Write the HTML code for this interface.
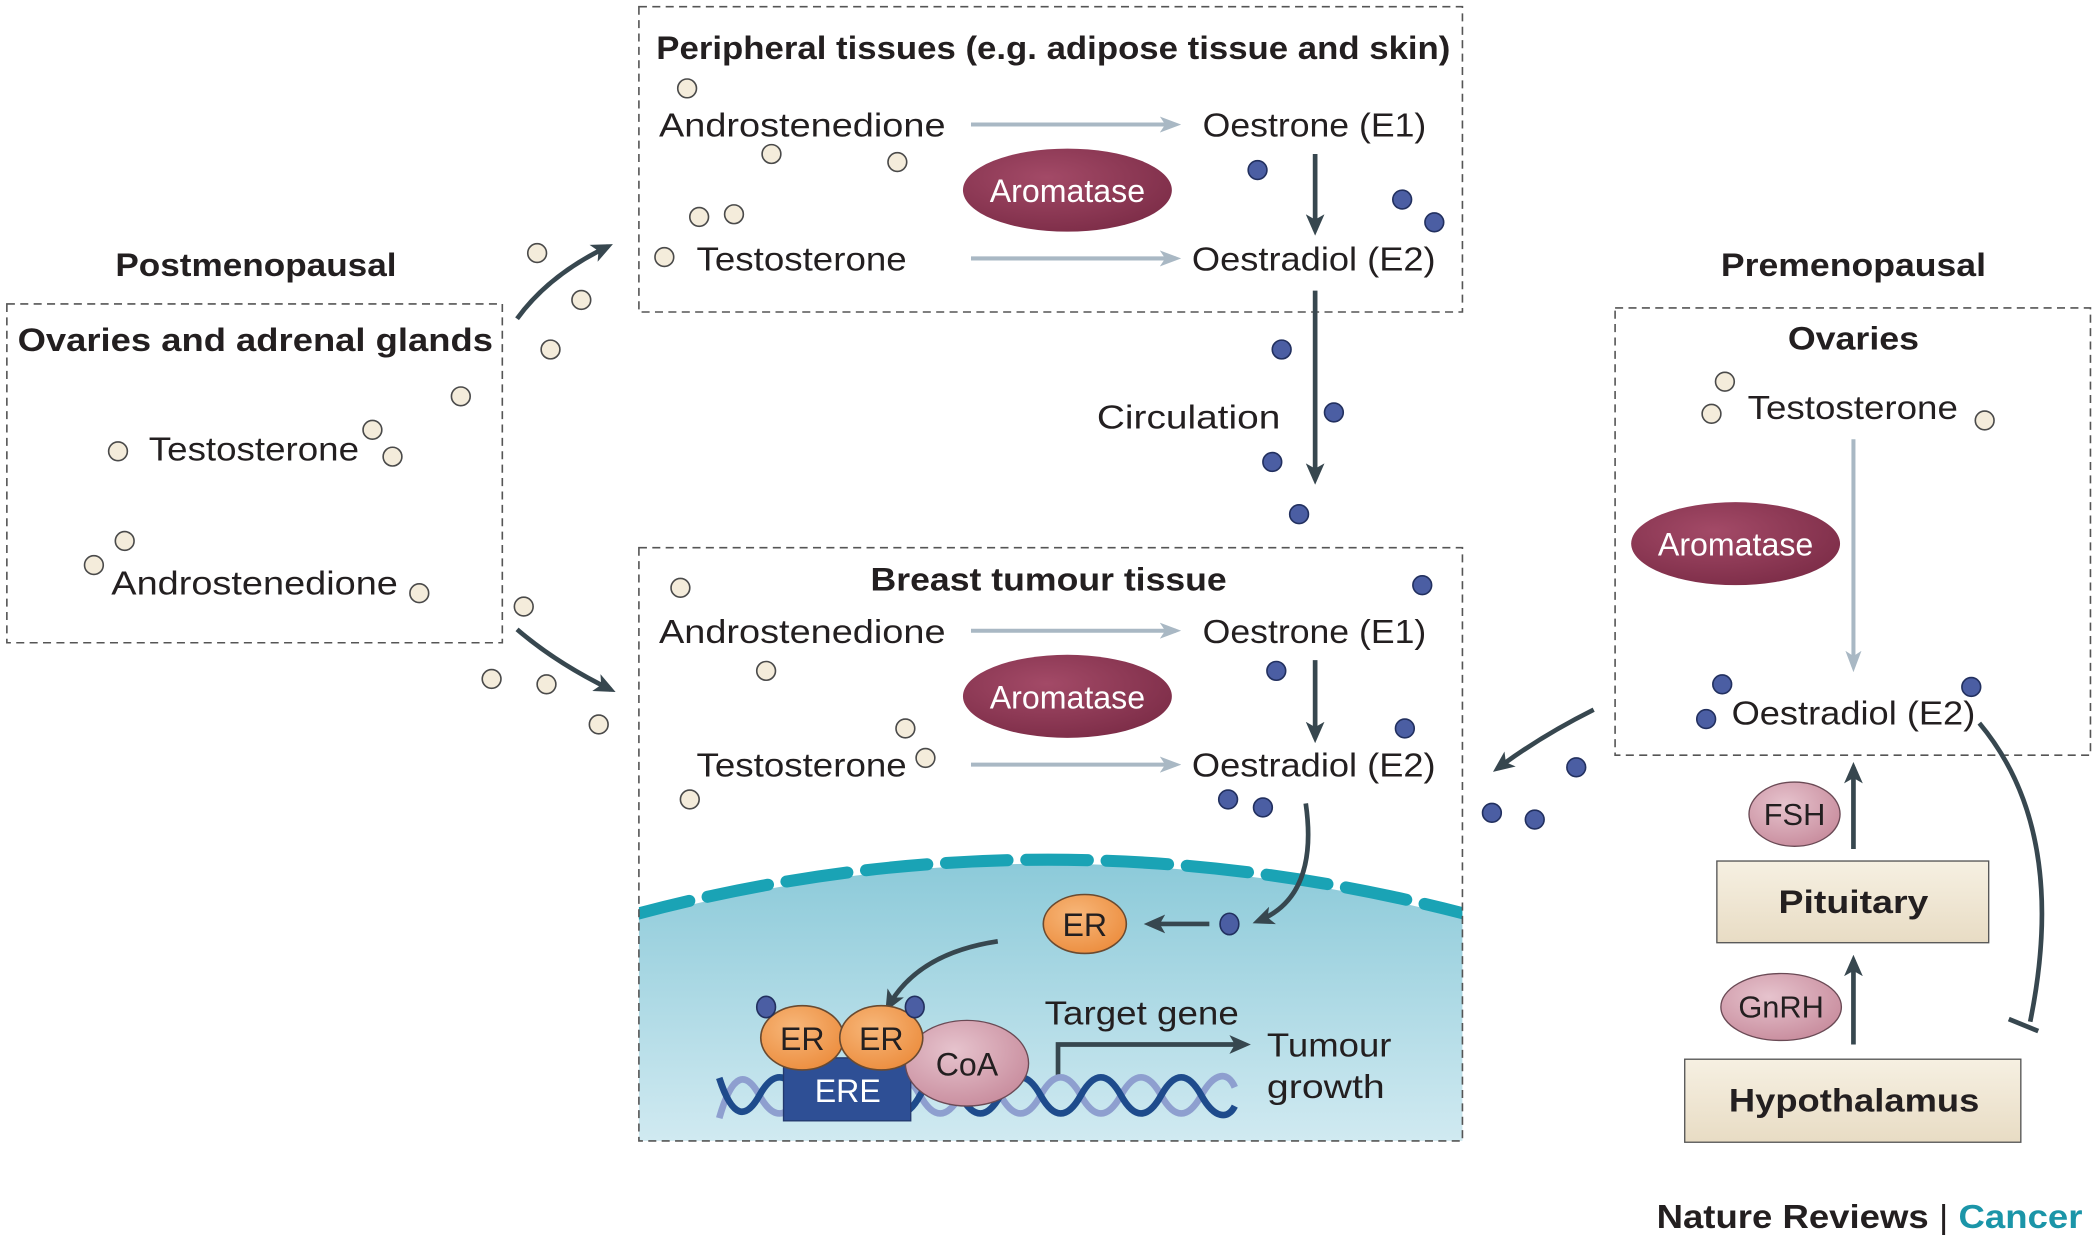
<!DOCTYPE html>
<html><head><meta charset="utf-8"><style>html,body{margin:0;padding:0;background:#fff}svg{display:block}text{font-family:"Liberation Sans",sans-serif;fill:#231f20}</style></head><body>
<svg width="2100" height="1244" viewBox="0 0 1568 929" xmlns="http://www.w3.org/2000/svg">
<defs>
<marker id="ad2" markerWidth="16" markerHeight="16" refX="12" refY="8" orient="auto" markerUnits="userSpaceOnUse" viewBox="0 0 16 16"><path d="M0,1 L16,8 L0,15 L4,8 Z" fill="#37474f"/></marker>
<marker id="al" markerWidth="16" markerHeight="14" refX="12" refY="7" orient="auto" markerUnits="userSpaceOnUse" viewBox="0 0 16 14"><path d="M0,1 L16,7 L0,13 L4,7 Z" fill="#a9b8c4"/></marker>
<linearGradient id="cell" x1="0" y1="0" x2="0" y2="1"><stop offset="0" stop-color="#8ccad9"/><stop offset="1" stop-color="#d3ebf2"/></linearGradient>
<radialGradient id="er" cx="0.4" cy="0.35" r="0.7"><stop offset="0" stop-color="#f7b77a"/><stop offset="1" stop-color="#ec8d3e"/></radialGradient>
<radialGradient id="pk" cx="0.4" cy="0.35" r="0.7"><stop offset="0" stop-color="#e6c3cd"/><stop offset="1" stop-color="#c88c9d"/></radialGradient>
<radialGradient id="aro" cx="0.4" cy="0.35" r="0.7"><stop offset="0" stop-color="#a34a67"/><stop offset="1" stop-color="#7d2d48"/></radialGradient>
<linearGradient id="box" x1="0" y1="0" x2="0" y2="1"><stop offset="0" stop-color="#f6f0e2"/><stop offset="1" stop-color="#e8dcc4"/></linearGradient>
<clipPath id="bt"><rect x="477" y="409" width="615" height="443"/></clipPath>
</defs>
<g fill="none" stroke="#555" stroke-width="1.2" stroke-dasharray="6,4">
<rect x="477" y="5" width="615" height="228"/>
<rect x="5" y="227" width="370" height="253"/>
<rect x="1206" y="230" width="355" height="334"/>
</g>
<g clip-path="url(#bt)">
<path d="M460,690 Q780,600 1110,690 L1110,860 L460,860 Z" fill="url(#cell)"/>
<path d="M470,684 Q780,600 1100,684" fill="none" stroke="#1aa3b5" stroke-width="9" stroke-dasharray="46,14" stroke-linecap="round"/>
</g>
<rect x="477" y="409" width="615" height="443" fill="none" stroke="#555" stroke-width="1.2" stroke-dasharray="6,4"/>
<g font-weight="bold" font-size="24" lengthAdjust="spacingAndGlyphs">
<text x="490" y="44" textLength="593" lengthAdjust="spacingAndGlyphs">Peripheral tissues (e.g. adipose tissue and skin)</text>
<text x="86" y="206" textLength="210" lengthAdjust="spacingAndGlyphs">Postmenopausal</text>
<text x="13" y="262" textLength="355" lengthAdjust="spacingAndGlyphs">Ovaries and adrenal glands</text>
<text x="1285" y="206" textLength="198" lengthAdjust="spacingAndGlyphs">Premenopausal</text>
<text x="1335" y="261" textLength="98" lengthAdjust="spacingAndGlyphs">Ovaries</text>
<text x="650" y="441" textLength="266" lengthAdjust="spacingAndGlyphs">Breast tumour tissue</text>
</g>
<g font-size="25">
<text x="492" y="102" textLength="214" lengthAdjust="spacingAndGlyphs">Androstenedione</text>
<text x="898" y="102" textLength="167" lengthAdjust="spacingAndGlyphs">Oestrone (E1)</text>
<text x="520" y="202" textLength="157" lengthAdjust="spacingAndGlyphs">Testosterone</text>
<text x="890" y="202" textLength="182" lengthAdjust="spacingAndGlyphs">Oestradiol (E2)</text>
<text x="111" y="344" textLength="157" lengthAdjust="spacingAndGlyphs">Testosterone</text>
<text x="83" y="444" textLength="214" lengthAdjust="spacingAndGlyphs">Androstenedione</text>
<text x="819" y="320" textLength="137" lengthAdjust="spacingAndGlyphs">Circulation</text>
<text x="492" y="480" textLength="214" lengthAdjust="spacingAndGlyphs">Androstenedione</text>
<text x="898" y="480" textLength="167" lengthAdjust="spacingAndGlyphs">Oestrone (E1)</text>
<text x="520" y="580" textLength="157" lengthAdjust="spacingAndGlyphs">Testosterone</text>
<text x="890" y="580" textLength="182" lengthAdjust="spacingAndGlyphs">Oestradiol (E2)</text>
<text x="1305" y="313" textLength="157" lengthAdjust="spacingAndGlyphs">Testosterone</text>
<text x="1293" y="541" textLength="182" lengthAdjust="spacingAndGlyphs">Oestradiol (E2)</text>
<text x="780" y="765" textLength="145" lengthAdjust="spacingAndGlyphs">Target gene</text>
<text x="946" y="789" textLength="93" lengthAdjust="spacingAndGlyphs">Tumour</text>
<text x="946" y="820" textLength="88" lengthAdjust="spacingAndGlyphs">growth</text>
</g>
<g stroke="#a9b8c4" stroke-width="3" fill="none" marker-end="url(#al)">
<line x1="725" y1="93" x2="878" y2="93"/>
<line x1="725" y1="193" x2="878" y2="193"/>
<line x1="725" y1="471" x2="878" y2="471"/>
<line x1="725" y1="571" x2="878" y2="571"/>
<line x1="1384" y1="328" x2="1384" y2="498"/>
</g>
<g stroke="#37474f" stroke-width="3.5" fill="none" marker-end="url(#ad2)">
<line x1="982" y1="115" x2="982" y2="172"/>
<line x1="982" y1="493" x2="982" y2="551"/>
<line x1="982" y1="217" x2="982" y2="358"/>
<path d="M386,238 Q410,205 454,184"/>
<path d="M386,470 Q415,495 456,515"/>
<path d="M1190,530 Q1150,550 1118,574"/>
<path d="M975,600 Q985,670 939,688"/>
<line x1="903" y1="690" x2="858" y2="690"/>
<path d="M745,703 Q685,712 663,752"/>
<path d="M790,805 L790,780 L930,780"/>
<line x1="1384" y1="634" x2="1384" y2="573"/>
<line x1="1384" y1="780" x2="1384" y2="717"/>
</g>
<path d="M1478,540 Q1545,620 1516,763" stroke="#37474f" stroke-width="3.5" fill="none"/>
<line x1="1500" y1="761" x2="1522" y2="770" stroke="#37474f" stroke-width="3.5"/>
<g font-size="24" text-anchor="middle">
<ellipse cx="797" cy="142" rx="78" ry="31" fill="url(#aro)"/><text x="797" y="151" style="fill:#fff">Aromatase</text>
<ellipse cx="797" cy="520" rx="78" ry="31" fill="url(#aro)"/><text x="797" y="529" style="fill:#fff">Aromatase</text>
<ellipse cx="1296" cy="406" rx="78" ry="31" fill="url(#aro)"/><text x="1296" y="415" style="fill:#fff">Aromatase</text>
</g>
<!-- DNA double helix -->
<g fill="none" stroke-width="5">
<path stroke="#8e9fcf" d="M537,835 C547,800 557,800 567,818 C577,836 587,836 597,818 C607,800 617,800 627,818 C637,836 647,836 657,818 C667,800 677,800 687,818 C697,836 707,836 717,818 C727,800 737,800 747,818 C757,836 767,836 777,818 C787,800 797,800 807,818 C817,836 827,836 837,818 C847,800 857,800 867,818 C877,836 887,836 897,818 C907,800 917,800 922,812"/>
<path stroke="#1e4b8c" d="M537,805 C547,836 557,836 567,818 C577,800 587,800 597,818 C607,836 617,836 627,818 C637,800 647,800 657,818 C667,836 677,836 687,818 C697,800 707,800 717,818 C727,836 737,836 747,818 C757,800 767,800 777,818 C787,836 797,836 807,818 C817,800 827,800 837,818 C847,836 857,836 867,818 C877,800 887,800 897,818 C907,836 917,836 922,826"/>
</g>
<rect x="585" y="790" width="95" height="47" fill="#2e4f95" stroke="#23396e"/>
<text x="633" y="823" font-size="24" text-anchor="middle" style="fill:#fff">ERE</text>
<ellipse cx="722" cy="794" rx="46" ry="32" fill="url(#pk)" stroke="#6a4a55"/>
<text x="722" y="803" font-size="24" text-anchor="middle">CoA</text>
<g stroke="#6a4a30" stroke-width="1.2" fill="url(#er)">
<ellipse cx="599" cy="775" rx="31" ry="24"/><ellipse cx="658" cy="775" rx="31" ry="24"/><ellipse cx="810" cy="690" rx="31" ry="22"/>
</g>
<g font-size="24" text-anchor="middle"><text x="599" y="784">ER</text><text x="658" y="784">ER</text><text x="810" y="699">ER</text></g>
<g fill="#f4ecdb" stroke="#4a4a4a" stroke-width="1.2">
<circle cx="513" cy="66" r="7"/><circle cx="576" cy="115" r="7"/><circle cx="670" cy="121" r="7"/><circle cx="522" cy="162" r="7"/><circle cx="548" cy="160" r="7"/><circle cx="496" cy="192" r="7"/>
<circle cx="401" cy="189" r="7"/><circle cx="434" cy="224" r="7"/><circle cx="411" cy="261" r="7"/><circle cx="344" cy="296" r="7"/><circle cx="278" cy="321" r="7"/><circle cx="293" cy="341" r="7"/><circle cx="88" cy="337" r="7"/><circle cx="93" cy="404" r="7"/><circle cx="70" cy="422" r="7"/><circle cx="313" cy="443" r="7"/>
<circle cx="391" cy="453" r="7"/><circle cx="367" cy="507" r="7"/><circle cx="408" cy="511" r="7"/><circle cx="447" cy="541" r="7"/>
<circle cx="508" cy="439" r="7"/><circle cx="572" cy="501" r="7"/><circle cx="676" cy="544" r="7"/><circle cx="691" cy="566" r="7"/><circle cx="515" cy="597" r="7"/>
<circle cx="1288" cy="285" r="7"/><circle cx="1278" cy="309" r="7"/><circle cx="1482" cy="314" r="7"/>
</g>
<g fill="#4b5ea3" stroke="#22305f" stroke-width="1.2">
<circle cx="939" cy="127" r="7"/><circle cx="1047" cy="149" r="7"/><circle cx="1071" cy="166" r="7"/>
<circle cx="957" cy="261" r="7"/><circle cx="996" cy="308" r="7"/><circle cx="950" cy="345" r="7"/><circle cx="970" cy="384" r="7"/>
<circle cx="1062" cy="437" r="7"/><circle cx="953" cy="501" r="7"/><circle cx="1049" cy="544" r="7"/><circle cx="917" cy="597" r="7"/><circle cx="943" cy="603" r="7"/>
<circle cx="1177" cy="573" r="7"/><circle cx="1114" cy="607" r="7"/><circle cx="1146" cy="612" r="7"/>
<circle cx="1286" cy="511" r="7"/><circle cx="1274" cy="537" r="7"/><circle cx="1472" cy="513" r="7"/>
<ellipse cx="918" cy="690" rx="7" ry="8"/><ellipse cx="572" cy="752" rx="7" ry="8"/><ellipse cx="683" cy="752" rx="7" ry="8"/>
</g>
<ellipse cx="1340" cy="608" rx="34" ry="24" fill="url(#pk)" stroke="#6a4a55"/>
<text x="1340" y="616" font-size="23" text-anchor="middle">FSH</text>
<ellipse cx="1330" cy="752" rx="45" ry="25" fill="url(#pk)" stroke="#6a4a55"/>
<text x="1330" y="760" font-size="23" text-anchor="middle">GnRH</text>
<rect x="1282" y="643" width="203" height="61" fill="url(#box)" stroke="#555"/>
<text x="1328" y="682" font-size="24" font-weight="bold" textLength="112" lengthAdjust="spacingAndGlyphs">Pituitary</text>
<rect x="1258" y="791" width="251" height="62" fill="url(#box)" stroke="#555"/>
<text x="1291" y="830" font-size="24" font-weight="bold" textLength="187" lengthAdjust="spacingAndGlyphs">Hypothalamus</text>
<text x="1237" y="917" font-size="25" font-weight="bold" textLength="318" lengthAdjust="spacingAndGlyphs">Nature Reviews <tspan font-weight="normal">|</tspan> <tspan style="fill:#1b95a8">Cancer</tspan></text>
</svg>
</body></html>
